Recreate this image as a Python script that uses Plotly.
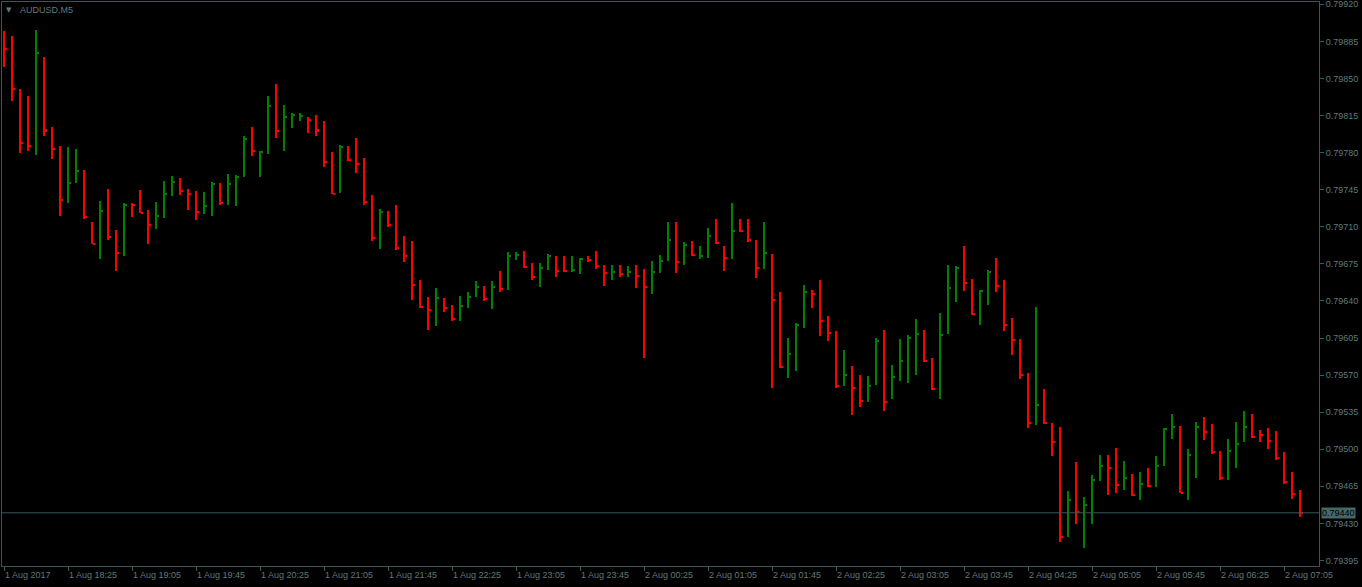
import plotly.graph_objects as go
import pandas as pd

# AUDUSD M5, one bar every 5 minutes from the first bar
first_bar = "2017-08-01 17:45"

bar_open = [
    0.79888, 0.79878, 0.79840, 0.79789, 0.79786, 0.79870, 0.79801, 0.79783, 0.79735, 0.79751,
    0.79763, 0.79715, 0.79694, 0.79725, 0.79700, 0.79685, 0.79732, 0.79731, 0.79723, 0.79712,
    0.79720, 0.79741, 0.79752, 0.79744, 0.79741, 0.79724, 0.79730, 0.79750, 0.79732, 0.79750,
    0.79757, 0.79793, 0.79779, 0.79781, 0.79824, 0.79800, 0.79814, 0.79812, 0.79814, 0.79811,
    0.79801, 0.79771, 0.79742, 0.79785, 0.79773, 0.79769, 0.79733, 0.79699, 0.79724, 0.79712,
    0.79690, 0.79682, 0.79655, 0.79634, 0.79631, 0.79643, 0.79633, 0.79623, 0.79635, 0.79644,
    0.79653, 0.79642, 0.79653, 0.79651, 0.79682, 0.79683, 0.79672, 0.79663, 0.79671, 0.79682,
    0.79675, 0.79667, 0.79669, 0.79680, 0.79679, 0.79673, 0.79666, 0.79667, 0.79665, 0.79667,
    0.79664, 0.79653, 0.79667, 0.79678, 0.79698, 0.79677, 0.79693, 0.79681, 0.79682, 0.79701,
    0.79692, 0.79681, 0.79710, 0.79706, 0.79698, 0.79671, 0.79684, 0.79641, 0.79578, 0.79590,
    0.79617, 0.79648, 0.79647, 0.79621, 0.79610, 0.79560, 0.79570, 0.79558, 0.79546, 0.79561,
    0.79602, 0.79547, 0.79568, 0.79583, 0.79605, 0.79609, 0.79583, 0.79557, 0.79609, 0.79652,
    0.79671, 0.79657, 0.79628, 0.79649, 0.79667, 0.79654, 0.79617, 0.79603, 0.79570, 0.79525,
    0.79542, 0.79525, 0.79507, 0.79417, 0.79452, 0.79441, 0.79447, 0.79471, 0.79484, 0.79482,
    0.79466, 0.79473, 0.79457, 0.79467, 0.79465, 0.79484, 0.79519, 0.79521, 0.79459, 0.79495,
    0.79521, 0.79516, 0.79497, 0.79473, 0.79498, 0.79505, 0.79521, 0.79516, 0.79513, 0.79508,
    0.79492, 0.79469, 0.79458,
]
bar_high = [
    0.79895, 0.79890, 0.79840, 0.79833, 0.79896, 0.79870, 0.79804, 0.79786, 0.79785, 0.79783,
    0.79764, 0.79715, 0.79734, 0.79746, 0.79707, 0.79732, 0.79732, 0.79745, 0.79726, 0.79733,
    0.79753, 0.79758, 0.79756, 0.79746, 0.79744, 0.79743, 0.79752, 0.79751, 0.79760, 0.79759,
    0.79796, 0.79804, 0.79782, 0.79833, 0.79845, 0.79825, 0.79817, 0.79817, 0.79814, 0.79816,
    0.79810, 0.79781, 0.79787, 0.79786, 0.79794, 0.79775, 0.79740, 0.79727, 0.79725, 0.79731,
    0.79701, 0.79697, 0.79660, 0.79644, 0.79652, 0.79643, 0.79636, 0.79645, 0.79648, 0.79659,
    0.79654, 0.79659, 0.79668, 0.79686, 0.79686, 0.79687, 0.79676, 0.79676, 0.79684, 0.79682,
    0.79682, 0.79682, 0.79681, 0.79682, 0.79687, 0.79674, 0.79674, 0.79674, 0.79673, 0.79674,
    0.79670, 0.79678, 0.79683, 0.79715, 0.79715, 0.79696, 0.79697, 0.79692, 0.79709, 0.79717,
    0.79692, 0.79732, 0.79717, 0.79717, 0.79698, 0.79715, 0.79684, 0.79648, 0.79605, 0.79619,
    0.79655, 0.79650, 0.79660, 0.79626, 0.79612, 0.79594, 0.79579, 0.79570, 0.79569, 0.79605,
    0.79613, 0.79580, 0.79604, 0.79608, 0.79623, 0.79613, 0.79586, 0.79629, 0.79674, 0.79673,
    0.79692, 0.79661, 0.79650, 0.79669, 0.79681, 0.79660, 0.79624, 0.79604, 0.79572, 0.79634,
    0.79557, 0.79525, 0.79521, 0.79461, 0.79488, 0.79455, 0.79476, 0.79495, 0.79495, 0.79501,
    0.79489, 0.79477, 0.79479, 0.79482, 0.79494, 0.79520, 0.79533, 0.79522, 0.79500, 0.79526,
    0.79530, 0.79524, 0.79498, 0.79510, 0.79526, 0.79536, 0.79533, 0.79518, 0.79520, 0.79517,
    0.79497, 0.79479, 0.79462,
]
bar_low = [
    0.79861, 0.79829, 0.79780, 0.79782, 0.79778, 0.79796, 0.79774, 0.79720, 0.79732, 0.79751,
    0.79717, 0.79694, 0.79680, 0.79698, 0.79668, 0.79682, 0.79719, 0.79723, 0.79694, 0.79708,
    0.79718, 0.79739, 0.79740, 0.79726, 0.79716, 0.79722, 0.79720, 0.79731, 0.79731, 0.79730,
    0.79757, 0.79777, 0.79757, 0.79779, 0.79794, 0.79782, 0.79803, 0.79810, 0.79799, 0.79796,
    0.79766, 0.79741, 0.79742, 0.79772, 0.79761, 0.79731, 0.79697, 0.79689, 0.79710, 0.79688,
    0.79677, 0.79641, 0.79633, 0.79613, 0.79616, 0.79630, 0.79621, 0.79621, 0.79633, 0.79644,
    0.79640, 0.79632, 0.79648, 0.79650, 0.79679, 0.79671, 0.79660, 0.79653, 0.79669, 0.79663,
    0.79667, 0.79667, 0.79665, 0.79677, 0.79670, 0.79654, 0.79660, 0.79663, 0.79663, 0.79652,
    0.79586, 0.79647, 0.79666, 0.79678, 0.79666, 0.79674, 0.79682, 0.79680, 0.79681, 0.79694,
    0.79668, 0.79680, 0.79705, 0.79696, 0.79662, 0.79670, 0.79558, 0.79577, 0.79567, 0.79574,
    0.79614, 0.79633, 0.79607, 0.79602, 0.79558, 0.79560, 0.79532, 0.79540, 0.79545, 0.79561,
    0.79536, 0.79547, 0.79564, 0.79563, 0.79570, 0.79582, 0.79556, 0.79547, 0.79609, 0.79639,
    0.79649, 0.79627, 0.79617, 0.79636, 0.79648, 0.79612, 0.79589, 0.79566, 0.79520, 0.79523,
    0.79524, 0.79494, 0.79412, 0.79417, 0.79429, 0.79407, 0.79429, 0.79470, 0.79457, 0.79459,
    0.79462, 0.79456, 0.79452, 0.79464, 0.79464, 0.79484, 0.79510, 0.79459, 0.79452, 0.79473,
    0.79509, 0.79496, 0.79471, 0.79471, 0.79482, 0.79507, 0.79511, 0.79507, 0.79500, 0.79490,
    0.79467, 0.79453, 0.79436,
]
bar_close = [
    0.79878, 0.79840, 0.79789, 0.79786, 0.79874, 0.79801, 0.79783, 0.79735, 0.79751, 0.79763,
    0.79719, 0.79694, 0.79725, 0.79700, 0.79685, 0.79731, 0.79731, 0.79723, 0.79712, 0.79720,
    0.79741, 0.79752, 0.79744, 0.79741, 0.79724, 0.79730, 0.79750, 0.79732, 0.79750, 0.79757,
    0.79793, 0.79782, 0.79781, 0.79824, 0.79800, 0.79814, 0.79816, 0.79815, 0.79811, 0.79801,
    0.79771, 0.79741, 0.79785, 0.79773, 0.79769, 0.79733, 0.79699, 0.79724, 0.79712, 0.79690,
    0.79682, 0.79655, 0.79634, 0.79631, 0.79643, 0.79633, 0.79623, 0.79635, 0.79644, 0.79653,
    0.79642, 0.79653, 0.79651, 0.79682, 0.79683, 0.79672, 0.79663, 0.79671, 0.79682, 0.79668,
    0.79668, 0.79669, 0.79680, 0.79679, 0.79673, 0.79666, 0.79667, 0.79665, 0.79667, 0.79664,
    0.79653, 0.79667, 0.79678, 0.79698, 0.79677, 0.79693, 0.79683, 0.79682, 0.79701, 0.79695,
    0.79681, 0.79706, 0.79706, 0.79698, 0.79671, 0.79685, 0.79641, 0.79578, 0.79590, 0.79617,
    0.79648, 0.79647, 0.79621, 0.79610, 0.79560, 0.79570, 0.79558, 0.79546, 0.79560, 0.79602,
    0.79545, 0.79568, 0.79583, 0.79605, 0.79609, 0.79583, 0.79557, 0.79608, 0.79652, 0.79671,
    0.79657, 0.79628, 0.79649, 0.79667, 0.79654, 0.79617, 0.79603, 0.79570, 0.79525, 0.79542,
    0.79525, 0.79507, 0.79417, 0.79452, 0.79441, 0.79447, 0.79471, 0.79484, 0.79482, 0.79466,
    0.79473, 0.79457, 0.79467, 0.79465, 0.79484, 0.79519, 0.79521, 0.79459, 0.79495, 0.79521,
    0.79516, 0.79497, 0.79473, 0.79498, 0.79505, 0.79521, 0.79512, 0.79513, 0.79508, 0.79492,
    0.79469, 0.79458, 0.79440,
]

time_labels = [
    "1 Aug 2017", "1 Aug 18:25", "1 Aug 19:05", "1 Aug 19:45", "1 Aug 20:25",
    "1 Aug 21:05", "1 Aug 21:45", "1 Aug 22:25", "1 Aug 23:05", "1 Aug 23:45",
    "2 Aug 00:25", "2 Aug 01:05", "2 Aug 01:45", "2 Aug 02:25", "2 Aug 03:05",
    "2 Aug 03:45", "2 Aug 04:25", "2 Aug 05:05", "2 Aug 05:45", "2 Aug 06:25",
    "2 Aug 07:05",
]
price_ticks = [
    0.79395, 0.79430, 0.79465, 0.79500, 0.79535, 0.79570, 0.79605, 0.79640,
    0.79675, 0.79710, 0.79745, 0.79780, 0.79815, 0.79850, 0.79885, 0.79920,
]
last_price = 0.79440
symbol = "AUDUSD,M5"

times = pd.date_range(first_bar, periods=len(bar_close), freq="5min")
label_times = times[::8]

# sizes: 8 px per 5-min bar, plot 564 px high
ms_px = 300000 / 8
y_min, y_max = 0.793898, 0.799222
price_px = (y_max - y_min) / 564

bull = "#008000"
bear = "#ff0000"
frame = "#3a5858"
txt = "#5e7b7b"
colors = [bull if c > o else bear for o, c in zip(bar_open, bar_close)]

fig = go.Figure()
fig.add_trace(go.Bar(
    x=times, base=bar_low, y=[h - l for h, l in zip(bar_high, bar_low)],
    width=2 * ms_px, marker=dict(color=colors, line_width=0), hoverinfo="skip",
))
fig.add_trace(go.Bar(
    x=times, base=[c - price_px for c in bar_close], y=[2 * price_px] * len(bar_close),
    width=2 * ms_px, offset=ms_px, marker=dict(color=colors, line_width=0), hoverinfo="skip",
))

fig.add_hline(y=last_price, line=dict(color=frame, width=1))

fig.add_annotation(
    x=1, xref="paper", y=last_price, yref="y", xanchor="left", xshift=2,
    text=f"{last_price:.5f}", showarrow=False, bgcolor="#476767", borderpad=0,
    font=dict(family="Liberation Sans", size=9, color="#000000"),
)
fig.add_annotation(
    x=0.0053, xref="paper", y=0.985, yref="paper", xanchor="center", yanchor="middle",
    text="▼", showarrow=False, font=dict(family="DejaVu Sans", size=7, color=txt),
)
fig.add_annotation(
    x=0.0118, xref="paper", y=0.985, yref="paper", xanchor="left", yanchor="middle",
    text=symbol, showarrow=False, font=dict(family="Liberation Sans", size=9, color=txt),
)

fig.update_layout(
    width=1362, height=587,
    margin=dict(l=2, r=43, t=2, b=21),
    paper_bgcolor="#000000", plot_bgcolor="#000000",
    barmode="overlay", bargap=0, showlegend=False,
    font=dict(family="Liberation Sans", size=9, color=txt),
)
fig.update_xaxes(
    type="date", automargin=False,
    range=[times[0] - pd.Timedelta(milliseconds=2 * ms_px),
           times[0] + pd.Timedelta(milliseconds=1315 * ms_px)],
    tickvals=label_times, ticktext=time_labels, ticklabelposition="outside right",
    ticks="outside", ticklen=4, tickcolor=frame, showgrid=False, zeroline=False,
    showline=True, linecolor=frame, linewidth=1, mirror=True,
)
fig.update_yaxes(
    side="right", range=[y_min, y_max], automargin=False,
    tickvals=price_ticks, ticktext=[f"{p:.5f}" for p in price_ticks],
    ticks="outside", ticklen=4, tickcolor=frame, showgrid=False, zeroline=False,
    showline=True, linecolor=frame, linewidth=1, mirror=True,
    ticklabeloverflow="allow",
)

# drop the page's default body margin so the chart sits at the window corner
fig.write_html(
    "out.html",
    config={"displayModeBar": False},
    post_script="document.body.style.margin='0';",
)
